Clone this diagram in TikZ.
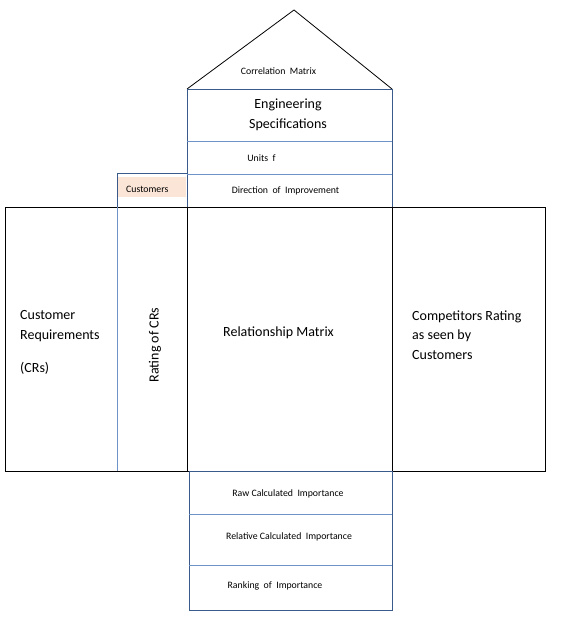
\documentclass[tikz,border=0pt]{standalone}
\usepackage{fontspec}
\setmainfont{Carlito}
\definecolor{dblue}{HTML}{3A5A8C}
\definecolor{lblue}{HTML}{6E93C8}
\definecolor{peach}{HTML}{FBE5D6}
\begin{document}
\begin{tikzpicture}[x=1pt,y=-1pt,
  big/.style={font=\fontsize{14}{19.5}\selectfont, inner sep=0pt},
  small/.style={font=\fontsize{9.8}{11}\selectfont, inner sep=0pt},
  bluebox/.style={draw=dblue, line width=0.9pt},
  blackbox/.style={draw=black, line width=0.9pt},
  divider/.style={draw=lblue, line width=1pt}]
\useasboundingbox (0,0) rectangle (560,642);
% roof
\draw[line width=0.8pt] (187,89) coordinate (rl) -- (294,10) coordinate (apex) -- (392,89) coordinate (rr);
\node[small] (corr) at (278.5,71) {Correlation\ \ Matrix};
% top box
\draw[bluebox] (187,89) rectangle (392,207);
\node[big, align=center] (eng) at (288,115) {Engineering\\Specifications};
\draw[divider] (187,141) -- (392,141);
\draw[divider] (187,174) -- (392,174);
\node[small] (units) at (261.5,158) {Units\ \ f};
\node[small] (dir) at (285.5,191) {Direction\ \ of\ \ Improvement};
% customers
\fill[peach] (118,177) rectangle (186,197);
\draw[bluebox] (117,207) -- (117,173) -- (187,173);
\node[small, anchor=west] (cust) at (126,189) {Customers};
% main row
\draw[blackbox] (5,207) rectangle (187,471);
\draw[blackbox] (187,207) rectangle (392,471);
\draw[blackbox] (392,207) rectangle (545,471);
\draw[draw=lblue, line width=1pt] (117,207) -- (117,471);
\node[big, anchor=west, align=left] (cr) at (20,326) {Customer\\Requirements};
\node[big, anchor=west] (crs) at (20,368) {(CRs)};
\node[big, rotate=90] (rating) at (155,345) {Rating of CRs};
\node[big, anchor=west] (rel) at (223,333) {Relationship Matrix};
\node[big, anchor=west, align=left] (comp) at (412,335) {Competitors Rating\\as seen by\\Customers};
% bottom box
\draw[bluebox] (189,471) rectangle (392,610);
\draw[divider] (189,514) -- (392,514);
\draw[divider] (189,565) -- (392,565);
\node[small] (raw) at (288,494) {Raw\ Calculated\ \ Importance};
\node[small] (relc) at (289,537) {Relative\ Calculated\ \ Importance};
\node[small] (rank) at (275,586) {Ranking\ \ of\ \ Importance};
\end{tikzpicture}
\end{document}
